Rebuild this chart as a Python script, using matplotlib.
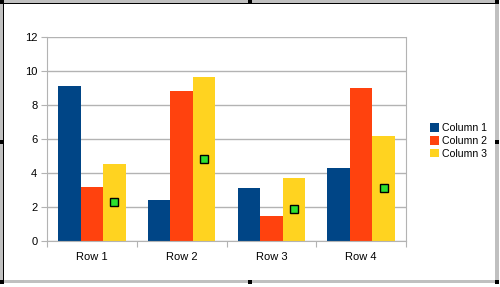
import matplotlib
matplotlib.use("Agg")
import numpy as np
from matplotlib import pyplot as plt
from matplotlib.patches import Rectangle

rows = ["Row 1", "Row 2", "Row 3", "Row 4"]
columns = ["Column 1", "Column 2", "Column 3"]
col1 = [9.1, 2.4, 3.1, 4.3]
col2 = [3.2, 8.8, 1.5, 9.02]
col3 = [4.54, 9.65, 3.7, 6.2]
points = [2.3, 4.82, 1.9, 3.1]

colors = ["#004586", "#ff420e", "#ffd320"]
W, H = 500, 287

plt.rcParams["font.family"] = ["Liberation Sans", "DejaVu Sans"]
fig = plt.figure(figsize=(W / 100, H / 100), dpi=100)
ax = fig.add_axes([47 / W, 1 - 241 / H, (406 - 47) / W, (241 - 37) / H])

x = np.arange(len(rows))
bw = 0.25
for i, (vals, name) in enumerate(zip([col1, col2, col3], columns)):
    ax.bar(x + (i - 1) * bw, vals, width=bw, color=colors[i], label=name, zorder=2)
ax.plot(x + bw, points, linestyle="none", marker="s", markersize=5.5,
        markerfacecolor="#2ee02e", markeredgecolor="black", markeredgewidth=1, zorder=3)

ax.set_xlim(-0.5, len(rows) - 0.5)
ax.set_ylim(0, 12)
ax.set_yticks(range(0, 13, 2))
ax.yaxis.grid(True, color="#b3b3b3", linewidth=1, zorder=0)
ax.set_xticks(np.arange(-0.5, len(rows), 1.0))
ax.set_xticklabels([])
ax.set_xticks(x, rows, minor=True)
ax.tick_params(axis="x", which="minor", length=0, labelsize=8, pad=8)
ax.tick_params(axis="x", which="major", length=4, color="#b3b3b3")
ax.tick_params(axis="y", length=4, color="#b3b3b3", labelsize=8, pad=3)
for s in ["left", "bottom", "right"]:
    ax.spines[s].set_color("#b3b3b3")
ax.spines["top"].set_visible(False)

leg = fig.legend(loc="center left", bbox_to_anchor=(425 / W, 1 - 141 / H), frameon=False,
                 fontsize=7.6, handlelength=0.85, handleheight=0.85, handletextpad=0.3,
                 labelspacing=0.25, borderpad=0)

# selection frame with handles
def px(x0, y0, w, h, color):
    fig.patches.append(Rectangle((x0 / W, 1 - (y0 + h) / H), w / W, h / H,
                                 transform=fig.transFigure, color=color, lw=0, zorder=10))

gray = "#c0c0c0"
px(0, 0, 499, 3, gray)
px(0, 0, 3, 283, gray)
px(495, 0, 4, 283, gray)
px(0, 280, 499, 3, gray)
px(3, 3, 492, 1, "black")
px(3, 3, 1, 277, "black")
for hx in [0, 247.5, 495]:
    for hy in [0, 139.5, 279.5]:
        if hx == 247.5 and hy == 139.5:
            continue
        px(hx, hy, 4, 4, "black")

fig.savefig("out.png", dpi=100)
